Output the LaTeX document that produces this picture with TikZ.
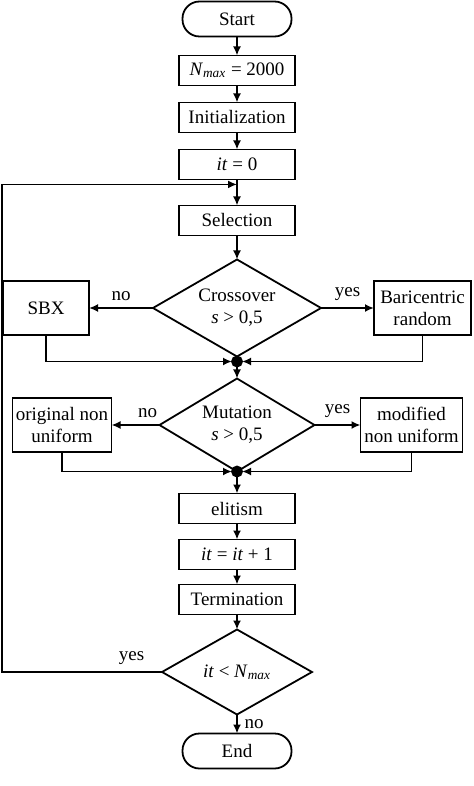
\documentclass[tikz,border=0pt]{standalone}
\usepackage{fontspec}
\setmainfont{Liberation Serif}
\usetikzlibrary{positioning,shapes.geometric,arrows.meta,calc}

\begin{document}
\begin{tikzpicture}[x=0.5pt, y=-0.5pt,
    font=\fontsize{9.5}{11}\selectfont,
    >={Latex[length=4.5pt,width=4pt]},
    line width=0.9pt]
    \useasboundingbox (0,0) rectangle (474,786);

    %Nodes
    \begin{scope}[every node/.style={draw=black, align=center, inner sep=1pt, outer sep=0pt},
        termbox/.style={rectangle, rounded corners=8.5pt, minimum width=54.5pt, minimum height=17.5pt},
        procbox/.style={rectangle, minimum width=58pt, minimum height=15pt},
        sidebox/.style={rectangle, minimum height=27pt},
        decision/.style={diamond, inner sep=0pt},
        dot/.style={circle, fill=black, inner sep=0pt, minimum size=5pt}]
    \node (start)    [termbox] at (237,19)                      {Start};
    \node (nmax)     [procbox, below=9.5pt of start]            {\textit{N}\textsubscript{\textit{max}} = 2000};
    \node (init)     [procbox, below=8.5pt of nmax]             {Initialization};
    \node (itzero)   [procbox, below=8.5pt of init]             {\textit{it} = 0};
    \node (select)   [procbox, below=13pt of itzero]            {Selection};
    \node (cross)    [decision, aspect=1.73, minimum width=84pt, minimum height=48.5pt, below=12pt of select]
                                                                {Crossover\\\textit{s} > 0,5};
    \node (sbx)      [sidebox, minimum width=43pt, left=32pt of cross]     {SBX};
    \node (baric)    [sidebox, minimum width=48.5pt, right=26.5pt of cross] {Baricentric\\random};
    \node (mergeA)   [dot, below=0pt of cross]                  {};
    \node (mut)      [decision, aspect=1.67, minimum width=77.5pt, minimum height=46.5pt, below=6pt of mergeA]
                                                                {Mutation\\\textit{s} > 0,5};
    \node (orig)     [sidebox, minimum width=49.5pt, left=24pt of mut]   {original non\\uniform};
    \node (modif)    [sidebox, minimum width=51pt, right=23pt of mut]    {modified\\non uniform};
    \node (mergeB)   [dot] at (mut.south)                       {};
    \node (elit)     [procbox, below=8.5pt of mergeB]           {elitism};
    \node (itinc)    [procbox, below=8pt of elit]               {\textit{it} = \textit{it} + 1};
    \node (term)     [procbox, below=7.5pt of itinc]            {Termination};
    \node (check)    [decision, aspect=1.76, minimum width=75pt, minimum height=42.5pt, below=7.5pt of term]
                                                                {\textit{it} < \textit{N}\textsubscript{\textit{max}}};
    \node (stop)     [termbox, below=9.5pt of check]            {End};
    \end{scope}

    % Loop points
    \coordinate (loopin)   at ($(itzero.south)!0.19!(select.north)$);
    \coordinate (leftedge) at (2,0);

    %Lines
    \draw[->] (start)  -- (nmax);
    \draw[->] (nmax)   -- (init);
    \draw[->] (init)   -- (itzero);
    \draw[->] (itzero) -- (select);
    \draw[->] (select) -- (cross);
    \draw[->] (cross.west) -- node[above] {no} (sbx.east);
    \draw[->] (cross.east) -- node[above] {yes} (baric.west);
    \draw[->] (sbx.south)   |- (mergeA);
    \draw[->] (baric.south) |- (mergeA);
    \draw[->] (mergeA) -- (mut);
    \draw[->] (mut.west) -- node[above, pos=0.25] {no} (orig.east);
    \draw[->] (mut.east) -- node[above] {yes} (modif.west);
    \draw[->] (orig.south)  |- (mergeB);
    \draw[->] (modif.south) |- (mergeB);
    \draw[->] (mergeB) -- (elit);
    \draw[->] (elit)   -- (itinc);
    \draw[->] (itinc)  -- (term);
    \draw[->] (term)   -- (check);
    \draw[->] (check)  -- node[right] {no} (stop);
    \draw[->] (check.west) -- node[above, pos=0.19] {yes} (check.west -| leftedge) |- (loopin);
\end{tikzpicture}
\end{document}
